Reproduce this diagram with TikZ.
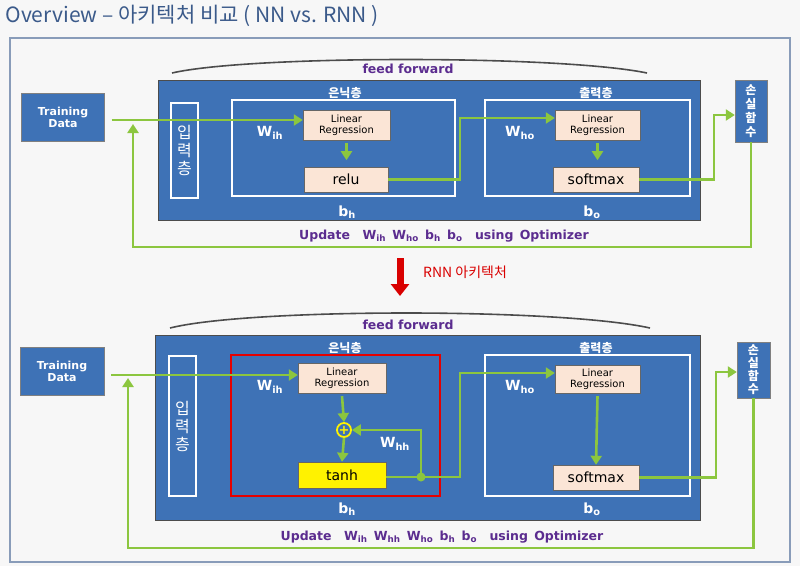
\documentclass[tikz,border=0pt]{standalone}
\usepackage{fontspec}
\setmainfont{DejaVu Sans}
\newfontfamily\kr{Noto Sans CJK KR}
\usetikzlibrary{arrows.meta}
\definecolor{panel}{HTML}{3E72B6}
\definecolor{peach}{HTML}{FBE5D6}
\definecolor{grn}{HTML}{8CC63F}
\definecolor{purp}{HTML}{5B2C8F}
\definecolor{ttl}{HTML}{3B5A8A}
\tikzset{
 pan/.style={fill=panel,draw=black!70,line width=1pt},
 wbox/.style={draw=white,line width=1.6pt},
 lr/.style={fill=peach,draw=black!60,font=\fontsize{10}{11}\selectfont,align=center,inner sep=0},
 act/.style={fill=peach,draw=black!60,font=\fontsize{14}{15}\selectfont,inner sep=0},
 tdbox/.style={fill=panel,draw=black!50,text=white,font=\bfseries\fontsize{11}{12}\selectfont,align=center,inner sep=0},
 g/.style={draw=grn,line width=2.6pt},
 ga/.style={g,-{Triangle[length=9pt,width=11pt]}},
 wl/.style={text=white,font=\bfseries\fontsize{14}{15}\selectfont},
 kl/.style={text=white,font=\kr\bfseries\fontsize{12}{13}\selectfont},
 ff/.style={text=purp,font=\bfseries\fontsize{12.5}{14}\selectfont},
}
\begin{document}
\begin{tikzpicture}[x=1pt,y=-1pt]
\useasboundingbox (0,0) rectangle (800,566);
\fill[white!94!gray] (0,0) rectangle (800,566);
\draw[ttl!60,line width=1.5pt] (10,38) rectangle (790,562);
\node[anchor=west,text=ttl,font=\kr\fontsize{21}{22}\selectfont] (title) at (2,16) {Overview – 아키텍처 비교 ( NN vs. RNN )};
% ===== TOP =====
\node[tdbox,minimum width=83pt,minimum height=48pt] (td1) at (63,117) {Training\\Data};
\draw[pan] (158,80) rectangle (700,220);
\draw[black!70,line width=1.6pt] (172,73) .. controls (250,55) and (560,55) .. (647,73);
\node[ff] (ff1) at (408,69) {feed forward};
\node[wbox,minimum width=27pt,minimum height=95pt,inner sep=0] (in1) at (184.5,150.5) {};
\node[text=white,font=\kr\fontsize{16}{18}\selectfont,align=center] at (in1) {입\\력\\층};
\draw[wbox] (232,100) rectangle (455,196);
\draw[wbox] (485,100) rectangle (690,196);
\node[kl] (h1) at (345,93) {은닉층};
\node[kl] (o1) at (596,93) {출력층};
\node[lr,minimum width=87pt,minimum height=30pt] (lr1) at (346.5,125) {Linear\\Regression};
\node[act,minimum width=84pt,minimum height=25pt] (relu) at (346,179.5) {relu};
\node[lr,minimum width=85pt,minimum height=30pt] (lr2) at (597.5,125) {Linear\\Regression};
\node[act,minimum width=86pt,minimum height=25pt] (sm1) at (596,179.5) {softmax};
\node[wl] (wih1) at (270,133) {W\textsubscript{ih}};
\node[wl] (who1) at (520,133) {W\textsubscript{ho}};
\node[wl] (bh1) at (347,212) {b\textsubscript{h}};
\node[wl] (bo1) at (592,212) {b\textsubscript{o}};
\node[tdbox,minimum width=32pt,minimum height=62pt,font=\kr\bfseries\fontsize{12}{14}\selectfont] (loss1) at (751,111) {손\\실\\함\\수};
\node[ff] (up1) at (444,236) {Update\quad W\textsubscript{ih}\enspace W\textsubscript{ho}\enspace b\textsubscript{h}\enspace b\textsubscript{o}\quad using\enspace Optimizer};
\coordinate (c1) at (303,120);
\draw[ga] (td1.east|-c1) ++(7,0) -- (lr1.west|-c1);
\draw[ga] (lr1.south) ++(0,3) -- ++(0,17);
\draw[ga] (relu.east) -- (460,179.5) -- (460,118) -- (lr2.west|-0,118);
\draw[ga] (lr2.south) ++(0,3) -- ++(0,17);
\draw[ga] (sm1.east) -- (714,179.5) -- (714,115) -- (loss1.west|-0,115);
\draw[ga] (loss1.south) -- (751,247) -- (133,247) -- (133,124);
% middle
\draw[red!85!black,line width=7pt,-{Triangle[length=12pt,width=18pt]}] (400,258) -- (400,296);
\node[text=red!85!black,font=\kr\fontsize{14}{15}\selectfont] (rnn) at (465,272) {RNN 아키텍처};
% ===== BOTTOM =====
\node[tdbox,minimum width=84pt,minimum height=48pt] (td2) at (62,371) {Training\\Data};
\draw[pan] (155,335) rectangle (700,520);
\draw[black!70,line width=1.6pt] (170,328) .. controls (250,308) and (560,308) .. (650,328);
\node[ff] (ff2) at (408,325) {feed forward};
\node[wbox,minimum width=27pt,minimum height=140pt,inner sep=0] (in2) at (182.5,426) {};
\node[text=white,font=\kr\fontsize{16}{18}\selectfont,align=center] at (in2) {입\\력\\층};
\draw[red!90!black,line width=2pt] (231,355) rectangle (440,496);
\draw[wbox] (485,355) rectangle (690,496);
\node[kl] (h2) at (345,348) {은닉층};
\node[kl] (o2) at (596,348) {출력층};
\node[lr,minimum width=88pt,minimum height=30pt] (lr3) at (342,378) {Linear\\Regression};
\node[draw=yellow,line width=1.8pt,circle,minimum size=14pt,inner sep=0,text=yellow,font=\bfseries\fontsize{13}{13}\selectfont] (plus) at (344,430) {+};
\node[act,fill=yellow,minimum width=88pt,minimum height=26pt] (tanh) at (342,475) {tanh};
\node[lr,minimum width=85pt,minimum height=28pt] (lr4) at (597.5,379) {Linear\\Regression};
\node[act,minimum width=86pt,minimum height=25pt] (sm2) at (596,477.5) {softmax};
\node[wl] (wih2) at (270,387) {W\textsubscript{ih}};
\node[wl] (whh) at (395,444) {W\textsubscript{hh}};
\node[wl] (who2) at (520,387) {W\textsubscript{ho}};
\node[wl] (bh2) at (347,509) {b\textsubscript{h}};
\node[wl] (bo2) at (592,509) {b\textsubscript{o}};
\node[tdbox,minimum width=33pt,minimum height=56pt,font=\kr\bfseries\fontsize{12}{13}\selectfont] (loss2) at (753.5,370) {손\\실\\함\\수};
\node[ff] (up2) at (442,537) {Update\quad W\textsubscript{ih}\enspace W\textsubscript{hh}\enspace W\textsubscript{ho}\enspace b\textsubscript{h}\enspace b\textsubscript{o}\quad using\enspace Optimizer};
\coordinate (c2) at (298,375);
\draw[ga] (td2.east|-c2) ++(7,0) -- (lr3.west|-c2);
\draw[ga] (lr3.south) ++(0,3) -- (plus.north);
\draw[ga] (plus.south) -- (tanh.north);
\coordinate (dot) at (421,477);
\draw[ga] (tanh.east|-dot) -- (460,477) -- (460,373) -- (lr4.west|-0,373);
\draw[ga] (dot) -- (421,430) -- (plus.east);
\fill[grn] (dot) circle (4.5pt);
\draw[ga] (lr4.south) ++(0,3) -- (sm2.north);
\draw[ga] (sm2.east) -- (716,477.5) -- (716,372) -- (loss2.west|-0,372);
\draw[ga] (loss2.south) -- (753.5,548) -- (128,548) -- (128,378);
\end{tikzpicture}
\end{document}
